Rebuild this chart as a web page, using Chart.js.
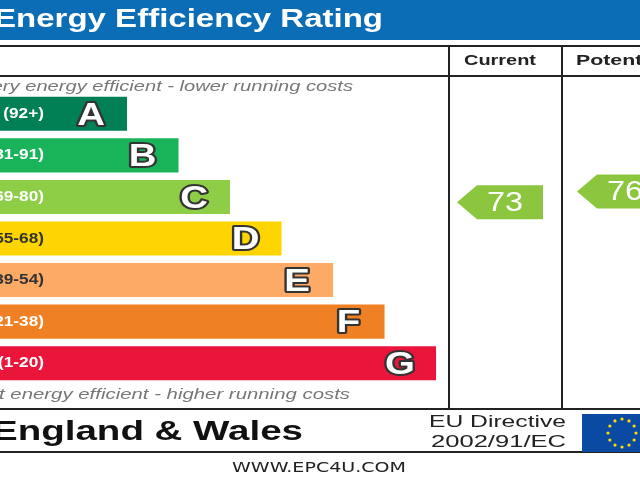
<!DOCTYPE html>
<html><head><meta charset="utf-8">
<script src="https://cdn.jsdelivr.net/npm/chart.js@4"></script>
<style>html,body{margin:0;padding:0;background:#fff}#w{width:640px;height:480px}</style>
</head><body><div id="w"><canvas id="c" width="640" height="480"></canvas></div>
<script>
const bands = ['A','B','C','D','E','F','G'];
const ranges = ['(92+)','(81-91)','(69-80)','(55-68)','(39-54)','(21-38)','(1-20)'];
const bandLow = [92,81,69,55,39,21,1];
const bandHigh = [100,91,80,68,54,38,20];
const barLength = [2,3,4,5,6,7,8];
const colors = ['#008054','#19b459','#8dce46','#ffd500','#fcaa65','#ef8023','#e9153b'];
const currentRating = 73;
const potentialRating = 76;

function bandIndex(v){for(let i=0;i<bandLow.length;i++){if(v>=bandLow[i])return i;}return 6;}
function fit(c,t,x,y,w){const m=c.measureText(t).width;c.save();c.translate(x,y);c.scale(w/m,1);c.fillText(t,0,0);c.restore();}
function sx(c,t,x,y,s,stroke){c.save();c.translate(x,y);c.scale(s,1);if(stroke)c.strokeText(t,0,0);c.fillText(t,0,0);c.restore();}

const deco = {
  id:'deco',
  beforeDraw(ch){
    const c=ch.ctx;
    c.save();
    c.fillStyle='#fff';c.fillRect(0,0,640,480);
    c.fillStyle='#0b6db5';c.fillRect(0,0,640,40);
    c.fillStyle='#fff';c.font='bold 26px "Liberation Sans", Arial';c.textBaseline='middle';c.textAlign='left';
    fit(c,'Energy Efficiency Rating',-6,20,389);
    c.strokeStyle='#222';c.lineWidth=2;
    c.beginPath();
    c.moveTo(0,46);c.lineTo(640,46);
    c.moveTo(0,76);c.lineTo(640,76);
    c.moveTo(449,46);c.lineTo(449,409);
    c.moveTo(562,46);c.lineTo(562,409);
    c.moveTo(0,409);c.lineTo(640,409);
    c.moveTo(0,452);c.lineTo(640,452);
    c.stroke();
    c.fillStyle='#222';c.font='bold 14px "Liberation Sans", Arial';
    fit(c,'Current',464,61,72);
    fit(c,'Potential',576,61,90);
    c.fillStyle='#777';c.font='italic 15px "Liberation Sans", Arial';
    fit(c,'Very energy efficient - lower running costs',-21,87,374);
    fit(c,'Not energy efficient - higher running costs',-27,395,377);
    c.fillStyle='#111';c.font='bold 27px "Liberation Sans", Arial';
    fit(c,'England & Wales',-8,433,311);
    c.fillStyle='#222';c.font='17px "Liberation Sans", Arial';
    fit(c,'EU Directive',429,422,137);fit(c,'2002/91/EC',431,442,135);
    c.fillStyle='#0b4aa2';c.fillRect(582,414,60,38);
    c.fillStyle='#ffdd00';
    for(let k=0;k<12;k++){const a=k*Math.PI/6;c.beginPath();c.arc(622+14*Math.cos(a),433+14*Math.sin(a),1.6,0,7);c.fill();}
    c.fillStyle='#222';c.font='14px "DejaVu Sans", Arial';
    fit(c,'WWW.EPC4U.COM',232,468,174);
    c.restore();
  },
  afterDatasetsDraw(ch){
    const c=ch.ctx, meta=ch.getDatasetMeta(0);
    c.save();
    meta.data.forEach((b,i)=>{
      c.textBaseline='middle';
      c.font='bold 15px "Liberation Sans", Arial';c.textAlign='right';
      c.fillStyle=(i===3||i===4)?'#333':'#fff';
      sx(c,ranges[i],44,b.y,1.15);
      c.font='bold 32px "Liberation Sans", Arial';c.textAlign='center';
      c.lineWidth=4;c.strokeStyle='#333';c.lineJoin='round';
      c.fillStyle='#fff';sx(c,bands[i],b.x-36,b.y+2,1.2,true);
    });
    const ys=ch.scales.y;
    function arrow(v,x0,x1){
      const i=bandIndex(v), y0=ys.getPixelForValue(i);
      const mid=(bandLow[i]+bandHigh[i])/2;
      const y=y0+(mid-v)*3.6, h=17;
      c.fillStyle='#8cc63f';c.beginPath();
      c.moveTo(x0,y);c.lineTo(x0+20,y-h);c.lineTo(x1,y-h);c.lineTo(x1,y+h);c.lineTo(x0+20,y+h);c.closePath();c.fill();
      c.fillStyle='#fff';c.font='27px "Liberation Sans", Arial';c.textAlign='center';c.textBaseline='middle';
      sx(c,String(v),x0+48,y+1,1.2);
    }
    arrow(currentRating,457,543);
    arrow(potentialRating,577,660);
    c.restore();
  }
};

new Chart(document.getElementById('c'),{
  type:'bar',
  data:{labels:bands,datasets:[{data:barLength.map(v=>[-1,v]),backgroundColor:colors,barPercentage:0.82,categoryPercentage:1,borderWidth:0}]},
  options:{
    indexAxis:'y',responsive:false,animation:false,
    layout:{padding:{top:93,bottom:96,left:0,right:0}},
    plugins:{legend:{display:false},tooltip:{enabled:false}},
    scales:{
      x:{display:false,min:-0.466,max:11.96},
      y:{display:false}
    }
  },
  plugins:[deco]
});
</script></body></html>
